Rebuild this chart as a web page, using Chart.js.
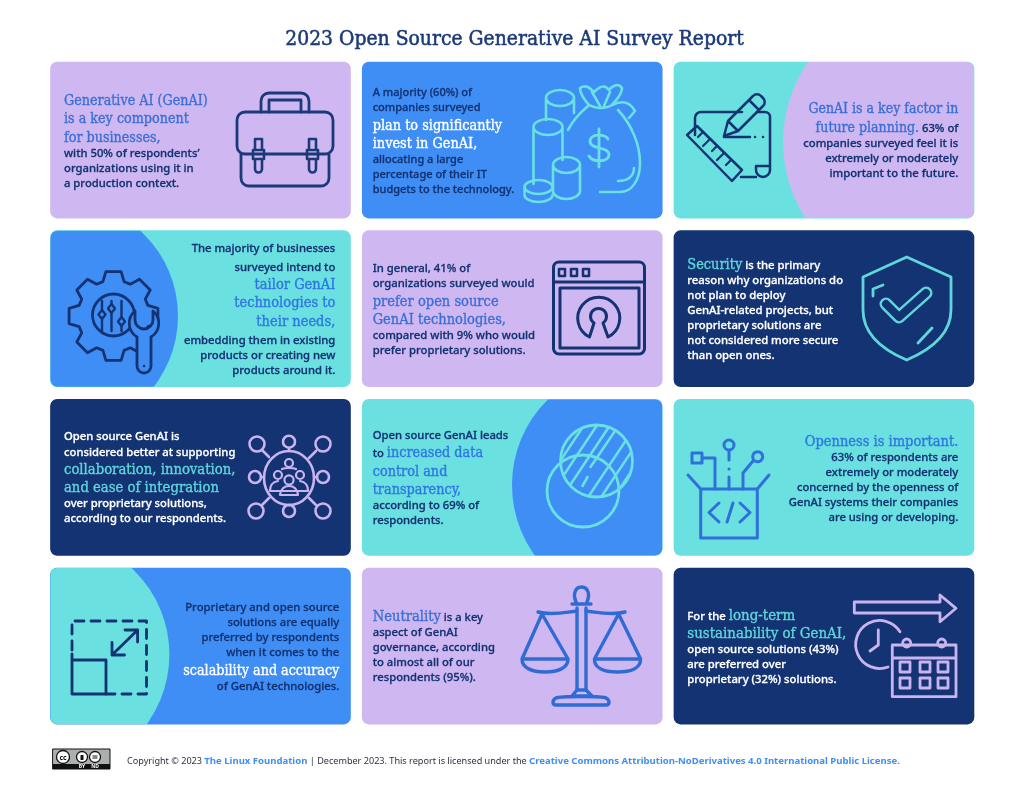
<!DOCTYPE html>
<html>
<head>
<meta charset="utf-8">
<title>2023 Open Source Generative AI Survey Report</title>
<script src="https://cdn.jsdelivr.net/npm/chart.js@4"></script>
<style>
  html, body { margin: 0; padding: 0; background: #fff; }
  canvas { display: block; }
</style>
</head>
<body>
<canvas id="surveyChart" width="1024" height="791"></canvas>
<script>
// Dados do painel
const columnNames = ['Left', 'Centre', 'Right'];
const rowNames = ['Row 1', 'Row 2', 'Row 3', 'Row 4'];

const LAV = '#cfb8f2', BLUE = '#3f8ef6', TEAL = '#6ae0e0', NAVY = '#143372';
const row1Fill = [LAV, BLUE, TEAL];
const row2Fill = [TEAL, LAV, NAVY];
const row3Fill = [NAVY, TEAL, TEAL];
const row4Fill = [BLUE, LAV, NAVY];
const cardFills = [row1Fill, row2Fill, row3Fill, row4Fill];

const titleText = '2023 Open Source Generative AI Survey Report';

// *...* marks the serif highlight inside a line
const cardLines = [
  ['*Generative AI (GenAI)*', '*is a key component*', '*for businesses,*', 'with 50% of respondents’', 'organizations using it in', 'a production context.'],
  ['A majority (60%) of', 'companies surveyed', '*plan to significantly*', '*invest in GenAI,*', 'allocating a large', 'percentage of their IT', 'budgets to the technology.'],
  ['*GenAI is a key factor in*', '*future planning.* 63% of', 'companies surveyed feel it is', 'extremely or moderately', 'important to the future.'],
  ['The majority of businesses', 'surveyed intend to', '*tailor GenAI*', '*technologies to*', '*their needs,*', 'embedding them in existing', 'products or creating new', 'products around it.'],
  ['In general, 41% of', 'organizations surveyed would', '*prefer open source*', '*GenAI technologies,*', 'compared with 9% who would', 'prefer proprietary solutions.'],
  ['*Security* is the primary', 'reason why organizations do', 'not plan to deploy', 'GenAI-related projects, but', 'proprietary solutions are', 'not considered more secure', 'than open ones.'],
  ['Open source GenAI is', 'considered better at supporting', '*collaboration, innovation,*', '*and ease of integration*', 'over proprietary solutions,', 'according to our respondents.'],
  ['Open source GenAI leads', 'to *increased data*', '*control and*', '*transparency,*', 'according to 69% of', 'respondents.'],
  ['*Openness is important.*', '63% of respondents are', 'extremely or moderately', 'concerned by the openness of', 'GenAI systems their companies', 'are using or developing.'],
  ['Proprietary and open source', 'solutions are equally', 'preferred by respondents', 'when it comes to the', '*scalability and accuracy*', 'of GenAI technologies.'],
  ['*Neutrality* is a key', 'aspect of GenAI', 'governance, according', 'to almost all of our', 'respondents (95%).'],
  ['For the *long-term*', '*sustainability of GenAI,*', 'open source solutions (43%)', 'are preferred over', 'proprietary (32%) solutions.']
];

const footerRuns = [
  ['Copyright © 2023 ', false],
  ['The Linux Foundation', true],
  [' | December 2023. This report is licensed under the ', false],
  ['Creative Commons Attribution-NoDerivatives 4.0 International Public License.', true]
];

// Layout of the texts, not data
const SANS = '"Noto Sans"', SERIF = '"DejaVu Serif Condensed"';
const HL_LAV = '#3c6fd6', HL_TEAL = '#2f77e0';
const TEAL_TXT = '#5fd6dc';
const textLayout = [
  { x: 64, align: 'left', ink: NAVY, hl: HL_LAV, body: 11.27, serif: 14.2, y: [105, 123.3, 141.7, 156.7, 172.3, 187.3] },
  { x: 372.7, align: 'left', ink: NAVY, hl: '#fff', body: 11, serif: 14.35, y: [96, 111.3, 130, 148.3, 163.3, 178.3, 193.3] },
  { x: 958.3, align: 'right', ink: NAVY, hl: HL_LAV, body: 11.27, serif: 14, y: [113.3, 131.7, 147.3, 162.3, 177.3] },
  { x: 335.3, align: 'right', ink: NAVY, hl: HL_TEAL, body: 11.27, serif: 14.5, y: [252.3, 270.7, 289, 307.3, 325.7, 344, 359, 374] },
  { x: 372.7, align: 'left', ink: NAVY, hl: HL_LAV, body: 11.3, serif: 14.5, y: [272.3, 287.3, 306, 324, 339, 354] },
  { x: 687.3, align: 'left', ink: '#fff', hl: TEAL_TXT, body: 11.3, serif: 14.4, y: [269.3, 284, 299, 314, 329.3, 344.3, 359.3] },
  { x: 64, align: 'left', ink: '#fff', hl: TEAL_TXT, body: 11.24, serif: 14.7, y: [440, 455.7, 474, 492.3, 507.3, 522.3] },
  { x: 372.7, align: 'left', ink: NAVY, hl: HL_TEAL, body: 11.27, serif: 14.3, y: [439, 457.3, 475.7, 494, 509, 524] },
  { x: 958.3, align: 'right', ink: NAVY, hl: HL_TEAL, body: 11.24, serif: 14.5, y: [445.7, 460.7, 475.7, 490.7, 505.7, 520.7] },
  { x: 339.3, align: 'right', ink: NAVY, hl: '#fff', body: 11.3, serif: 14.2, y: [611.3, 626.3, 641.3, 656.3, 674.7, 689.7] },
  { x: 372.7, align: 'left', ink: NAVY, hl: HL_LAV, body: 11.25, serif: 14.6, y: [621.3, 636.3, 651.3, 666.3, 681.3] },
  { x: 687.3, align: 'left', ink: '#fff', hl: TEAL_TXT, body: 11.3, serif: 14.9, y: [620, 638.3, 653.3, 668.3, 683.3] }
];

// Two-tone cards: a big circle clipped to the card
const wedges = [
  { row: 0, col: 2, cx: 924, cy: 142, r: 141, fill: LAV },
  { row: 1, col: 0, cx: 63, cy: 316, r: 115, fill: BLUE },
  { row: 2, col: 1, cx: 632, cy: 485, r: 120, fill: BLUE },
  { row: 3, col: 0, cx: 51.4, cy: 654.6, r: 118, fill: TEAL }
];

function cardRect(chart, row, col) {
  const el = chart.getDatasetMeta(row).data[col];
  return { x: el.x - el.width / 2, y: Math.min(el.y, el.base), w: el.width, h: Math.abs(el.base - el.y) };
}

function drawWedges(chart, ctx) {
  wedges.forEach(function (w) {
    const b = cardRect(chart, w.row, w.col);
    ctx.save();
    ctx.beginPath();
    ctx.roundRect(b.x, b.y, b.w, b.h, 7);
    ctx.clip();
    ctx.fillStyle = w.fill;
    ctx.beginPath();
    ctx.arc(w.cx, w.cy, w.r, 0, Math.PI * 2);
    ctx.fill();
    ctx.restore();
  });
}

function splitRuns(line) {
  return line.split('*').map(function (t, i) { return { t: t, hl: i % 2 === 1 }; }).filter(function (r) { return r.t; });
}

function setRunFont(ctx, hl, lay) {
  ctx.font = hl ? '400 ' + lay.serif + 'px ' + SERIF : '500 ' + lay.body + 'px ' + SANS;
}

function drawCardText(ctx) {
  ctx.textAlign = 'left';
  ctx.textBaseline = 'alphabetic';
  ctx.lineJoin = 'round';
  cardLines.forEach(function (lines, c) {
    const lay = textLayout[c];
    lines.forEach(function (line, i) {
      const runs = splitRuns(line);
      let width = 0;
      runs.forEach(function (r) { setRunFont(ctx, r.hl, lay); r.w = ctx.measureText(r.t).width; width += r.w; });
      let x = lay.align === 'right' ? lay.x - width : lay.x;
      runs.forEach(function (r) {
        setRunFont(ctx, r.hl, lay);
        const color = r.hl ? lay.hl : lay.ink;
        ctx.fillStyle = color;
        ctx.strokeStyle = color;
        ctx.lineWidth = r.hl ? 0.35 : 0.3;
        ctx.fillText(r.t, x, lay.y[i]);
        ctx.strokeText(r.t, x, lay.y[i]);
        x += r.w;
      });
    });
  });
}

function drawTitleAndFooter(ctx) {
  ctx.textAlign = 'center';
  ctx.fillStyle = '#1b3a78';
  ctx.strokeStyle = '#1b3a78';
  ctx.lineWidth = 0.5;
  ctx.font = '400 20.9px ' + SERIF;
  ctx.fillText(titleText, 514.5, 44.5);
  ctx.strokeText(titleText, 514.5, 44.5);

  ctx.textAlign = 'left';
  let x = 127;
  footerRuns.forEach(function (r) {
    ctx.font = r[1] ? '700 9.55px ' + SANS : '400 9.1px ' + SANS;
    ctx.fillStyle = r[1] ? '#3f8ef6' : '#2b3240';
    ctx.fillText(r[0], x, 763.5);
    x += ctx.measureText(r[0]).width;
  });
}

// Icons: decoration strokes on the page
function st(ctx, color, lw, d) {
  ctx.strokeStyle = color;
  ctx.lineWidth = lw;
  ctx.lineCap = 'round';
  ctx.lineJoin = 'round';
  ctx.stroke(new Path2D(d));
}

function circ(cx, cy, r) {
  return 'M' + (cx + r) + ' ' + cy + 'A' + r + ' ' + r + ' 0 1 1 ' + (cx - r) + ' ' + cy + 'A' + r + ' ' + r + ' 0 1 1 ' + (cx + r) + ' ' + cy;
}

function ell(cx, cy, rx, ry) {
  return 'M' + (cx + rx) + ' ' + cy + 'A' + rx + ' ' + ry + ' 0 1 1 ' + (cx - rx) + ' ' + cy + 'A' + rx + ' ' + ry + ' 0 1 1 ' + (cx + rx) + ' ' + cy;
}

function iconBriefcase(ctx) {
  const c = '#1c3a78';
  st(ctx, c, 2.8, 'M261 112V101a8 8 0 0 1 8-8h32a8 8 0 0 1 8 8V112M269 112V100h32V112');
  st(ctx, c, 2.8, 'M245 112h80a8 8 0 0 1 8 8v26a8 8 0 0 1-8 8H245a8 8 0 0 1-8-8v-26a8 8 0 0 1 8-8z');
  st(ctx, c, 2.8, 'M241 154V178a8 8 0 0 0 8 8h72a8 8 0 0 0 8-8V154');
  st(ctx, c, 2.6, 'M255 150V139h7v11M253 150h11v9h-11zM255 159v10a3.5 3.5 0 0 0 7 0v-10');
  st(ctx, c, 2.6, 'M309 150V139h7v11M307 150h11v9h-11zM309 159v10a3.5 3.5 0 0 0 7 0v-10');
}

function iconMoney(ctx) {
  const c = '#6ae0e0';
  st(ctx, c, 2.6, ell(560, 98, 14, 8) + 'M546 98V120M574 98V113');
  st(ctx, c, 2.6, ell(548, 127, 14.5, 8) + 'M533.5 127V184M562.5 127V160');
  st(ctx, c, 2.6, ell(566.5, 165, 13.5, 8) + 'M553 165V191a13.5 8 0 0 0 27 0V165');
  st(ctx, c, 2.6, ell(538.5, 187, 14, 7) + 'M524.5 187V195a14 7 0 0 0 28 0');
  // bag
  st(ctx, c, 2.6, 'M580 88C586 84 590 88 594 92C598 88 604 83 609 90C613 85 619 83 622 88C622 95 616 100 612 105C606 109 594 109 588 104C584 99 580 94 580 88z');
  st(ctx, c, 2.6, 'M592 92L600 106M610 92L604 106M612 105C622 100 630 102 635 111L629 118');
  st(ctx, c, 2.6, 'M568 130C573 120 581 112 588 106M618 110C632 125 640 145 640 163C640 180 632 192 620 192H600');
  st(ctx, c, 2.6, 'M618 181C628 181 634 176 634 168');
  st(ctx, c, 2.8, 'M608 139C605 134 591 133 590 141C590 150 609 146 609 155C608 163 592 162 589 156M599 129V167');
}

function iconDraft(ctx) {
  const c = '#143372';
  st(ctx, c, 2.5, 'M695 135V118a6 6 0 0 1 6-6H742M757 112H765a5 5 0 0 1 5 5V170a7 7 0 0 1-14 0V166H770M756 177H741');
  st(ctx, c, 2.5, 'M724 137H750M755 137h.1M763 137h.1');
  st(ctx, c, 2.5, 'M724 136L728 121L753 96a5.5 5.5 0 0 1 8 0l2 2a5.5 5.5 0 0 1 0 8L738 131zM749 100L759 110M728 121L738 131');
  st(ctx, c, 2.5, 'M687 135L697 126L742 170L732 181z');
  st(ctx, c, 2.2, 'M703 132l-5 5M710 139l-7 7M717 146l-5 5M724 153l-7 7M731 160l-5 5');
}

function iconGear(ctx) {
  const c = '#143372', cx = 113.5, cy = 316, teeth = 8;
  let d = '';
  for (let i = 0; i < teeth; i++) {
    const a = i * Math.PI * 2 / teeth;
    const pts = [[a - 0.3, 36], [a - 0.17, 45], [a + 0.17, 45], [a + 0.3, 36]];
    pts.forEach(function (p, k) {
      d += (i === 0 && k === 0 ? 'M' : 'L') + (cx + p[1] * Math.cos(p[0])).toFixed(1) + ' ' + (cy + p[1] * Math.sin(p[0])).toFixed(1);
    });
  }
  st(ctx, c, 2.8, d + 'z');
  st(ctx, c, 2.8, circ(cx, cy - 1, 21));
  st(ctx, c, 2.4, 'M102 301V309M102 320V331M111.5 301V303M111.5 314V331M121.5 301V316M121.5 327V331');
  st(ctx, c, 2.4, 'M102 310l3.5 4.5l-3.5 4.5l-3.5-4.5zM111.5 304l3.5 4.5l-3.5 4.5l-3.5-4.5zM121.5 317l3.5 4.5l-3.5 4.5l-3.5-4.5z');
  const w = new Path2D('M135 311A16 16 0 0 0 137 337V366a7 7 0 0 0 14 0V337A16 16 0 0 0 153 311V320a9 9 0 0 1-18 0z');
  ctx.fillStyle = BLUE;
  ctx.fill(w);
  ctx.strokeStyle = c;
  ctx.lineWidth = 2.8;
  ctx.stroke(w);
  st(ctx, c, 2.4, 'M144 366h.1');
}

function iconWindow(ctx) {
  const c = '#143372';
  st(ctx, c, 3, 'M559 262H639a5.5 5.5 0 0 1 5.5 5.5V348.5a5.5 5.5 0 0 1-5.5 5.5H559a5.5 5.5 0 0 1-5.5-5.5V267.5a5.5 5.5 0 0 1 5.5-5.5zM553.5 282H644.5');
  st(ctx, c, 3, 'M560 288H639V348H560z');
  st(ctx, c, 2.6, 'M559 269h6v7h-6zM571 269h6v7h-6zM583 269h6v7h-6z');
  st(ctx, c, 3, 'M589.5 337A21 21 0 1 1 608 337L603 323A8 8 0 1 0 594 323z');
}

function iconShield(ctx) {
  const c = '#5fd6dc';
  st(ctx, c, 2.8, 'M906.7 257L951 277V310C951 335 930 350 906.7 360C883 350 863 335 863 310V277z');
  st(ctx, c, 2.8, 'M873 296V289L883 285M918 343L932 328');
  st(ctx, c, 13, 'M886 304L899 317L926 293');
  st(ctx, NAVY, 8, 'M886 304L899 317L926 293');
}

function iconNetwork(ctx) {
  const c = '#c9b3f0';
  st(ctx, c, 2.6, ell(289, 478, 25, 27));
  st(ctx, c, 2.6, circ(289, 441.7, 6) + circ(255, 477, 6) + circ(323, 477, 6) + circ(289, 511, 6));
  st(ctx, c, 2.6, circ(257, 444, 7.5) + circ(323, 444, 7.5) + circ(256, 511, 7.5) + circ(323, 511, 7.5));
  st(ctx, c, 2.6, 'M289 448V451M261 477H264M317 477H314M289 505V505M262 450L269 457M316 451L309 458M262 505L269 498M316 505L309 498');
  st(ctx, c, 2.2, circ(289, 463, 4) + circ(278, 475, 4) + circ(300, 475, 4) + circ(289, 480, 4.6));
  st(ctx, c, 2.2, 'M270 491C270 484 273 482 278 481M308 491C308 484 305 482 300 481M270 491H308M280 495C281 488 285 486 289 486C293 486 297 488 298 495zM282 469C284 468 287 468 289 468C292 468 294 468 296 469');
}

function iconDiscs(ctx) {
  const c = '#6ae0e0';
  st(ctx, c, 2.8, circ(596.5, 461, 36) + circ(583, 491, 36));
  ctx.save();
  ctx.beginPath();
  ctx.arc(596.5, 461, 36, 0, Math.PI * 2);
  ctx.clip();
  for (let k = -3; k <= 3; k++) {
    const x0 = 596.5 + k * 13;
    const gap = k === 0 ? 'M' + (x0 - 14) + ' 486L' + (x0 - 9) + ' 477M' + (x0 - 6) + ' 467L' + (x0 + 26) + ' 420' : 'M' + (x0 - 30) + ' 510L' + (x0 + 30) + ' 420';
    st(ctx, c, 2.6, gap);
  }
  ctx.restore();
}

function iconBox(ctx) {
  const c = '#2f70da';
  st(ctx, c, 3, 'M700.7 489H757.3V538H700.7zM688 475L700.7 489M769 475L757.3 489');
  st(ctx, c, 3, 'M692 453h10v10h-10zM702 458H715V489');
  st(ctx, c, 3, circ(729, 445, 5) + 'M729 450V460M729 469h.1M729 477V489');
  st(ctx, c, 3, circ(757.7, 456.7, 5) + 'M753 461L743 473V489');
  st(ctx, c, 3, 'M719 503L709 512.5L719 522M727 522L733 503M740 503L750 512.5L740 522');
}

function iconResize(ctx) {
  const c = '#143372';
  ctx.setLineDash([9, 7]);
  st(ctx, c, 2.8, 'M72 650V621H146.5V694H106');
  ctx.setLineDash([]);
  st(ctx, c, 2.8, 'M72 654V694H106V660H72');
  st(ctx, c, 2.8, 'M112 655L137.6 630M125 630H137.6V642M112 642.5V655H124.5');
}

function iconScales(ctx) {
  const c = '#2f6bd4';
  st(ctx, c, 3.4, 'M577 604C572 595 575 587 581.6 587C588 587 591 595 586 604M572 604H591M577 608V690M586 608V690');
  st(ctx, c, 3.4, 'M538 612C552 616 566 612 577 611M586 611C597 612 611 616 625 612');
  st(ctx, c, 3.4, 'M577 690H586L592 696H572zM556 698C560 696 603 696 606 698C610 700 610 705 606 705H556C552 705 552 700 556 698z');
  st(ctx, c, 3.4, 'M542 614L522 659H568zM522 659C522 668 532 672 545 672C558 672 568 668 568 659');
  st(ctx, c, 3.4, 'M618.6 614L594.4 659H640.6zM594.4 659C594.4 668 604 672 617.5 672C631 672 640.6 668 640.6 659');
}

function iconCalendar(ctx) {
  const c = '#c9b3f0';
  st(ctx, c, 2.8, 'M854.3 602H940V595L956 608.3L940 621.7V613H854.3z');
  st(ctx, c, 2.8, 'M900 631.7A24 24 0 1 0 888 667M878.3 630V645L870 651');
  st(ctx, c, 2.8, 'M892.3 645H956V696.7H892.3zM892.3 658H956');
  st(ctx, c, 2.8, circ(906.7, 643, 4) + circ(941.7, 643, 4));
  st(ctx, c, 2.8, 'M900 662h10v10h-10zM920 662h10v10h-10zM938 662h10v10h-10zM900 678h10v10h-10zM920 678h10v10h-10zM938 678h10v10h-10z');
}

function drawLicenseBadge(ctx) {
  ctx.fillStyle = '#aab0ab';
  ctx.fillRect(53, 749, 57, 20);
  ctx.fillStyle = '#111';
  ctx.fillRect(53, 764, 57, 5);
  ctx.strokeStyle = '#111';
  ctx.lineWidth = 1;
  ctx.strokeRect(53, 749, 57, 20);
  [[63, 757, 6.5], [82, 757, 5.5], [95, 757, 5.5]].forEach(function (p) {
    ctx.beginPath();
    ctx.arc(p[0], p[1], p[2], 0, Math.PI * 2);
    ctx.fillStyle = '#fff';
    ctx.fill();
    ctx.lineWidth = 1.3;
    ctx.stroke();
  });
  ctx.fillStyle = '#111';
  ctx.textAlign = 'center';
  ctx.font = '700 7px ' + SANS;
  ctx.fillText('cc', 63, 759.5);
  ctx.font = '700 5px ' + SANS;
  ctx.fillStyle = '#fff';
  ctx.fillText('BY', 82, 768.4);
  ctx.fillText('ND', 95, 768.4);
  ctx.fillStyle = '#111';
  ctx.fillRect(80.5, 755, 3, 5);
  ctx.fillRect(92.5, 755.5, 5, 1);
  ctx.fillRect(92.5, 757.5, 5, 1);
}

// Plugin for everything on top of the bars
const infographicPlugin = {
  id: 'infographic',
  afterDatasetsDraw: function (chart) {
    const ctx = chart.ctx;
    ctx.save();
    drawWedges(chart, ctx);
    [iconBriefcase, iconMoney, iconDraft, iconGear, iconWindow, iconShield, iconNetwork, iconDiscs, iconBox, iconResize, iconScales, iconCalendar].forEach(function (f) { f(ctx); });
    drawCardText(ctx);
    drawTitleAndFooter(ctx);
    drawLicenseBadge(ctx);
    ctx.restore();
  }
};

const rowInset = 0.0375;

new Chart(document.getElementById('surveyChart').getContext('2d'), {
  type: 'bar',
  plugins: [infographicPlugin],
  data: {
    labels: columnNames,
    datasets: rowNames.map(function (name, r) {
      return {
        label: name,
        data: columnNames.map(function () { return [r + rowInset, r + 1 - rowInset]; }),
        backgroundColor: cardFills[r],
        borderRadius: 7,
        borderSkipped: false,
        borderWidth: 0,
        barThickness: 300,
        grouped: false
      };
    })
  },
  options: {
    responsive: false,
    animation: false,
    layout: { padding: { top: 55.7, bottom: 60.6, left: 44.6, right: 44.15 } },
    plugins: { legend: { display: false }, tooltip: { enabled: false }, title: { display: false } },
    scales: {
      x: { display: false },
      y: { display: false, reverse: true, min: 0, max: 4 }
    }
  }
});
</script>
</body>
</html>
